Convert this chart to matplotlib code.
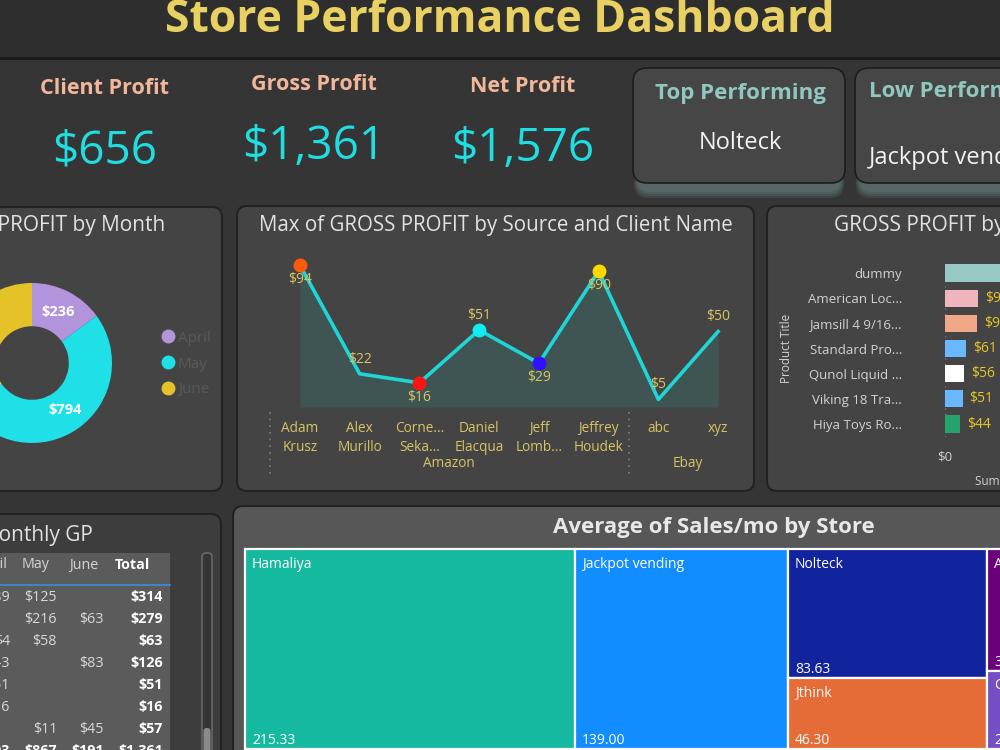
import numpy as np
import matplotlib
matplotlib.use('Agg')
import matplotlib.pyplot as plt
from matplotlib.patches import FancyBboxPatch, Rectangle
from matplotlib.lines import Line2D
from matplotlib.transforms import blended_transform_factory

plt.rcParams['font.family'] = ['Open Sans', 'DejaVu Sans']

# ---- data ----
kpi_labels = ['Client Profit', 'Gross Profit', 'Net Profit']
kpi_values = [656, 1361, 1576]
top_store = 'Nolteck'
low_store = 'Jackpot vending'

months = ['April', 'May', 'June']
month_profit = [236, 794, 546]

clients = ['Adam\nKrusz', 'Alex\nMurillo', 'Corne...\nSeka...', 'Daniel\nElacqua',
           'Jeff\nLomb...', 'Jeffrey\nHoudek', 'abc', 'xyz']
sources = ['Amazon', 'Amazon', 'Amazon', 'Amazon', 'Amazon', 'Amazon', 'Ebay', 'Ebay']
max_gp = [94, 22, 16, 51, 29, 90, 5, 50]

products = ['dummy', 'American Loc...', 'Jamsill 4 9/16...', 'Standard Pro...',
            'Qunol Liquid ...', 'Viking 18 Tra...', 'Hiya Toys Ro...']
product_gp = [400, 97, 94, 61, 56, 51, 44]

table_cols = ['April', 'May', 'June', 'Total']
table_rows = [[189, 125, None, 314],
              [None, 216, 63, 279],
              [4, 58, None, 63],
              [43, None, 83, 126],
              [51, None, None, 51],
              [16, None, None, 16],
              [None, 11, 45, 57]]
table_total = [303, 867, 191, 1361]

stores = ['Hamaliya', 'Jackpot vending', 'Nolteck', 'Jthink', 'Aster', 'Crown']
sales_mo = [215.33, 139.00, 83.63, 46.30, 37.40, 24.10]
store_group = [0, 1, 2, 2, 3, 3]

# ---- styles ----
month_colors = ['#b294dc', '#1ee0e6', '#e6c229']
marker_colors = ['#ff5a0a', None, '#ff1414', '#10eef0', '#3010ff', '#ffd800', None, None]
label_side = [-1, 1, -1, 1, -1, -1, 1, 1]
product_colors = ['#96c8c4', '#f0b4bc', '#f0a888', '#6ab8ff', '#ffffff', '#6ab8ff', '#24a46c']
store_colors = ['#15b9a0', '#118dff', '#12239e', '#e66c37', '#6b007b', '#744ec2']
gold = '#d9c463'
panel = '#444444'
edge = '#222222'
title_col = '#e2e2e2'

W, H = 1000, 750
fig = plt.figure(figsize=(10, 7.5), dpi=100)
fig.patch.set_facecolor('#353535')

bg = fig.add_axes([0, 0, 1, 1])
bg.set_xlim(0, W)
bg.set_ylim(H, 0)
bg.axis('off')


def px_axes(x, y, w, h):
    ax = fig.add_axes([x / W, 1 - (y + h) / H, w / W, h / H])
    ax.patch.set_alpha(0)
    return ax


def card(x, y, w, h, fc=panel, ec=edge, r=10, lw=1.5, alpha=1.0):
    bg.add_patch(FancyBboxPatch((x, y), w, h, boxstyle=f'round,pad=0,rounding_size={r}',
                                fc=fc, ec=ec, lw=lw, alpha=alpha))


# title band
bg.add_patch(Rectangle((0, 0), W, 57, fc='#2e2e2e', ec='none'))
bg.plot([0, W], [57.5, 57.5], color='#1a1a1a', lw=2)
bg.text(500, 21, 'Store Performance Dashboard', ha='center', va='center',
        fontsize=32, fontweight='bold', color='#e8d162')

# KPI
kpi_x = [105, 314, 523]
kpi_ly = [89, 84, 86]
for i in range(3):
    bg.text(kpi_x[i], kpi_ly[i], kpi_labels[i], ha='center', va='center',
            fontsize=15.5, fontweight='bold', color='#f2b79b')
    bg.text(kpi_x[i], kpi_ly[i] + 63, f'${kpi_values[i]:,}', ha='center', va='center',
            fontsize=33, color='#1fdde0')

# top / low cards with glow
for (cx, cw) in [(633, 212), (855, 200)]:
    for k in range(4):
        card(cx + 4 - k, 78 + k * 3, cw - 8 + 2 * k, 114 - k, fc='#8fb7b2', ec='none',
             r=14, lw=0, alpha=0.12)
    card(cx, 68, cw, 115, fc='#464646', ec='#1c1c1c', r=14, lw=1.2)
bg.text(740, 93, 'Top Performing', ha='center', va='center', fontsize=16,
        fontweight='bold', color='#90c8c0')
bg.text(740, 143, top_store, ha='center', va='center', fontsize=17, color='#f2f2f2')
bg.text(869, 92, 'Low Performing', ha='left', va='center', fontsize=16,
        fontweight='bold', color='#90c8c0')
bg.text(869, 158, low_store, ha='left', va='center', fontsize=17, color='#f2f2f2')

# panels
card(-20, 207, 242, 284)
card(237, 206, 517, 285)
card(767, 206, 260, 285)
card(-20, 514, 241, 260, fc='#3d3d3d')
card(233, 506, 800, 260, fc='#575757')

# ---- donut ----
bg.text(165, 225, 'Sum of NET PROFIT by Month', ha='right', va='center',
        fontsize=15, color=title_col)
axd = px_axes(-48, 283, 160, 160)
wedges, _ = axd.pie(month_profit, colors=month_colors, startangle=90, counterclock=False,
                    radius=1, wedgeprops=dict(width=0.54, linewidth=0))
axd.set_xlim(-1, 1)
axd.set_ylim(-1, 1)
for v, w in zip(month_profit, wedges[:2]):
    mid = np.deg2rad((w.theta1 + w.theta2) / 2)
    axd.text(0.72 * np.cos(mid), 0.72 * np.sin(mid), f'${v}', ha='center', va='center',
             fontsize=10.5, fontweight='bold', color='white', clip_on=False)
handles = [Line2D([], [], marker='o', ls='none', markersize=9, color=c) for c in month_colors]
axd.legend(handles, months, loc='center left', bbox_to_anchor=(145, 364),
           bbox_transform=bg.transData, frameon=False, labelcolor='#5a5a5a',
           fontsize=11, handletextpad=-0.35, labelspacing=0.7, borderpad=0)

# ---- line chart ----
bg.text(496, 226, 'Max of GROSS PROFIT by Source and Client Name', ha='center',
        va='center', fontsize=14.8, color=title_col)
axl = px_axes(270, 250, 478, 157)
xs = np.arange(len(max_gp))
axl.fill_between(xs, max_gp, 0, color='#3f5553', lw=0)
axl.plot(xs, max_gp, color='#1ed6d6', lw=2.6, zorder=3)
for i, (v, c) in enumerate(zip(max_gp, marker_colors)):
    if c:
        axl.plot(i, v, 'o', color=c, markersize=9, zorder=4, clip_on=False)
    axl.annotate(f'${v}', (i, v), xytext=(0, 10.5 * label_side[i]), textcoords='offset points',
                 ha='center', va='center', fontsize=10, color=gold, zorder=5,
                 annotation_clip=False)
axl.set_xlim(-0.5, len(max_gp) - 0.5)
axl.set_ylim(0, 104)
axl.set_xticks(xs)
axl.set_xticklabels(clients, color=gold, fontsize=9.8, linespacing=1.4)
axl.tick_params(axis='x', length=0, pad=10)
axl.set_yticks([])
for s in axl.spines.values():
    s.set_visible(False)
trl = blended_transform_factory(axl.transData, axl.transAxes)
for src in dict.fromkeys(sources):
    idx = [i for i, s in enumerate(sources) if s == src]
    axl.text(np.mean(idx), -0.36, src, transform=trl, ha='center', va='center',
             fontsize=9.8, color=gold)
    axl.plot([idx[0] - 0.5] * 2, [-0.03, -0.43], transform=trl, clip_on=False,
             ls=(0, (1, 3)), color='#808080', lw=1.2)

# ---- bar chart ----
bg.text(834, 226, 'GROSS PROFIT by Product Title', ha='left', va='center',
        fontsize=15, color=title_col)
axb = px_axes(945, 260.4, 100, 176.2)
ys = np.arange(len(products))
axb.axvline(0, ls=(0, (1, 3)), color='#7a7a7a', lw=1, zorder=0)
axb.barh(ys, product_gp, height=0.68, color=product_colors, zorder=2)
for i, v in enumerate(product_gp):
    axb.annotate(f'${v}', (v, i), xytext=(5, 0), textcoords='offset points',
                 ha='left', va='center', fontsize=10, color='#e6c629')
axb.set_xlim(0, 290)
axb.set_ylim(len(products) - 0.5, -0.5)
axb.set_yticks(ys)
axb.set_yticklabels(products, color='#d2d2d2', fontsize=9.5)
axb.tick_params(axis='y', length=0, pad=31)
axb.set_xticks([0])
axb.set_xticklabels(['$0'], color='#d2d2d2', fontsize=9.5)
axb.tick_params(axis='x', length=0, pad=10)
for s in axb.spines.values():
    s.set_visible(False)
axb.set_ylabel('Product Title', color='#d2d2d2', fontsize=8.5)
axb.yaxis.set_label_coords(-1.52, 0.5)
axb.set_xlabel('Sum of GROSS PROFIT', color='#d2d2d2', fontsize=8.5, ha='left')
axb.xaxis.set_label_coords(0.3, -0.22)

# ---- table ----
bg.text(93, 536, 'Monthly GP', ha='right', va='center', fontsize=15, color=title_col)
bg.add_patch(Rectangle((-10, 553), 180, 220, fc='#5b5b5b', ec='none'))
bg.plot([0, 170], [585, 585], color='#3a8ee6', lw=1.2)
col_start = [-24, 22, 69, 115]
col_end = [10, 57, 104, 163]
for j, name in enumerate(table_cols):
    bg.text(col_start[j], 565, name, ha='left', va='center', fontsize=10.3,
            fontweight='bold' if name == 'Total' else 'normal',
            color='white' if name == 'Total' else '#d4d4d4')
for i, row in enumerate(table_rows + [table_total]):
    yy = 597 + 22 * i
    for j, v in enumerate(row):
        if v is None:
            continue
        bold = (j == 3) or (i == len(table_rows))
        bg.text(col_end[j], yy, f'${v:,}', ha='right', va='center', fontsize=10.3,
                fontweight='bold' if bold else 'normal',
                color='white' if bold else '#d8d8d8')
# scrollbar
card(202, 553, 10, 210, fc='#353535', ec='#707070', r=4, lw=1)
card(203.5, 728, 7, 40, fc='#8a8a8a', ec='none', r=3, lw=0)

# ---- treemap ----
bg.text(714, 528, 'Average of Sales/mo by Store', ha='center', va='center',
        fontsize=16, fontweight='bold', color='#e8e8e8')
axt = px_axes(245, 549, 755, 200)
axt.set_xlim(0, 492.7)
axt.set_ylim(1, 0)
axt.axis('off')
x0 = 0.0
for g in sorted(set(store_group)):
    idx = [i for i, s in enumerate(store_group) if s == g]
    gw = sum(sales_mo[i] for i in idx)
    y0 = 0.0
    for i in idx:
        h = sales_mo[i] / gw
        axt.add_patch(Rectangle((x0, y0), gw, h, fc=store_colors[i], ec='white', lw=1.6,
                                clip_on=False))
        axt.annotate(stores[i], (x0, y0), xytext=(5, -11), textcoords='offset points',
                     ha='left', va='center', fontsize=10, color='white', annotation_clip=False)
        axt.annotate(f'{sales_mo[i]:.2f}', (x0, y0 + h), xytext=(5, 6),
                     textcoords='offset points', ha='left', va='center', fontsize=10,
                     color='white', annotation_clip=False)
        y0 += h
    x0 += gw

fig.savefig('out.png', dpi=100, facecolor=fig.get_facecolor())
